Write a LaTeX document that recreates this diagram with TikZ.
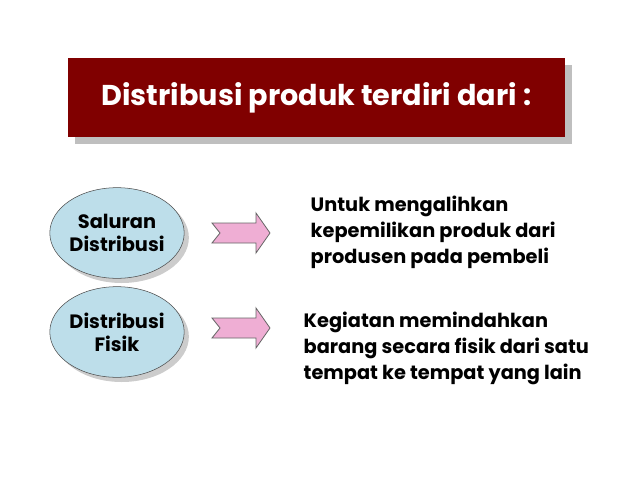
\documentclass[tikz,border=0pt]{standalone}
\usepackage{fontspec}
\setmainfont{Poppins}
\usetikzlibrary{shapes.geometric,shadows}
\tikzset{
  judul/.style={rectangle, fill=red!50!black, text=white, minimum width=372.75pt, minimum height=59.25pt,
    font=\fontsize{21.5}{26}\selectfont\bfseries, drop shadow={shadow xshift=5pt, shadow yshift=-5pt, fill=black!25, opacity=1}},
  jenis/.style={ellipse, draw=black!70, fill=cyan!22!white!92!black, inner sep=0pt, minimum width=100pt, minimum height=68pt,
    align=center, font=\fontsize{14.5}{17.5}\selectfont\bfseries,
    drop shadow={shadow xshift=3.5pt, shadow yshift=-3.5pt, fill=black!20, opacity=1}},
  ket/.style={anchor=west, align=left, font=\fontsize{14.5}{19.5}\selectfont\bfseries},
  panah/.style={draw=black!60, fill=magenta!30!white!95!black, line width=0.6pt}
}
\def\notchedarrow(#1,#2){\draw[panah] (#1,#2) -- ++(44,0) -- ++(0,-10) -- ++(14,20) -- ++(-14,20) -- ++(0,-10) -- ++(-44,0) -- ++(8,-10) -- cycle;}
\begin{document}
\begin{tikzpicture}[x=0.75pt,y=-0.75pt]
			%%%%% START %%%%%
			
			\useasboundingbox (0,0) rectangle (638,478);
			
			\node[judul] (judul) at (316.5,97.5) {Distribusi produk terdiri dari :};
			
			\node[jenis] (saluran) at (117,233) {Saluran\\Distribusi};
			\node[jenis] (fisik) at (117,332) {Distribusi\\Fisik};
			
			\notchedarrow(212,223)
			\notchedarrow(212,318)
			
			\node[ket] (ketsaluran) at (306,232) {Untuk mengalihkan\\kepemilikan produk dari\\produsen pada pembeli};
			\node[ket] (ketfisik) at (299,348) {Kegiatan memindahkan\\barang secara fisik dari satu\\tempat ke tempat yang lain};
			
			%%%%% END %%%%%
		\end{tikzpicture}
\end{document}
